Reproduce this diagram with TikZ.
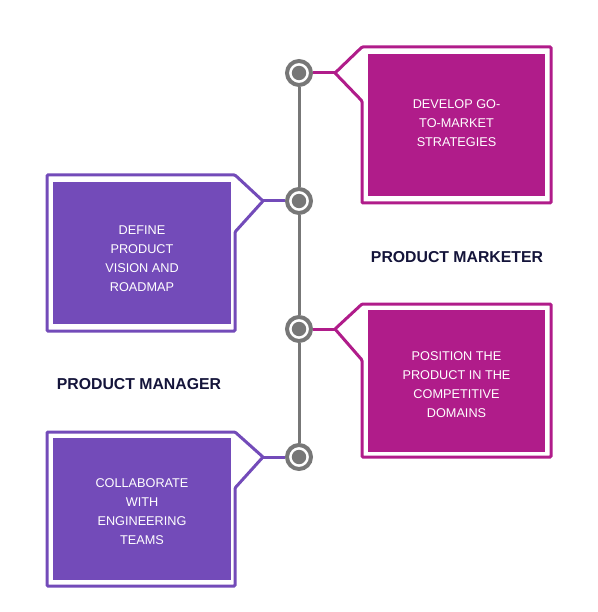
\documentclass[tikz,border=0pt]{standalone}
\usepackage{fontspec}
\setmainfont{Liberation Sans}
\usepackage{tikz}
\usepackage{xcolor}

\definecolor{magenta}{HTML}{B01C8A}
\definecolor{violet}{HTML}{734BB9}
\definecolor{spinegray}{HTML}{777777}
\definecolor{navy}{HTML}{14143A}

\tikzset{
  ring/.style={circle, draw=spinegray, line width=4pt, fill=white, minimum size=24pt, inner sep=0pt,
    path picture={\fill[spinegray] (path picture bounding box.center) circle (7.2pt);}},
  spine/.style={draw=spinegray, line width=3pt},
  magline/.style={draw=magenta, line width=3pt, rounded corners=1pt},
  violine/.style={draw=violet, line width=3pt, rounded corners=1pt},
  magbox/.style={fill=magenta, inner sep=0pt},
  viobox/.style={fill=violet, inner sep=0pt},
  boxtext/.style={text=white, align=center, inner sep=0pt,
    font=\fontsize{12.7}{19}\selectfont},
  rolelabel/.style={text=navy, font=\fontsize{15.8}{18}\selectfont\bfseries}
}

\begin{document}
\begin{tikzpicture}[x=1pt, y=-1pt]
        \useasboundingbox (0,0) rectangle (597,612);

        % Timeline rings
        \node (c1) at (299,73) [ring] {};
        \node (c2) at (299,201) [ring] {};
        \node (c3) at (299,329) [ring] {};
        \node (c4) at (299,457) [ring] {};
        \draw[spine] (c1) -- (c2);
        \draw[spine] (c2) -- (c3);
        \draw[spine] (c3) -- (c4);

        % Develop go-to-market strategies
        \node (gtm) at (456.5,125) [magbox, minimum width=177pt, minimum height=142pt] {};
        \node (gtmtext) at (456.5,122.7) [boxtext] {DEVELOP GO-\\TO-MARKET\\STRATEGIES};
        \coordinate (t1) at (335,73);
        \draw[magline] (t1) -- (362,47) -- (551,47) -- (551,203) -- (362,203) -- (362,101) -- cycle;
        \draw[magline] (c1) -- (t1);

        % Define product vision and roadmap
        \node (vision) at (142,253) [viobox, minimum width=178pt, minimum height=142pt] {};
        \node (visiontext) at (142,259) [boxtext] {DEFINE\\PRODUCT\\VISION AND\\ROADMAP};
        \coordinate (t2) at (263,201);
        \draw[violine] (t2) -- (235,175) -- (47,175) -- (47,331) -- (235,331) -- (235,232) -- cycle;
        \draw[violine] (c2) -- (t2);

        % Position the product
        \node (position) at (456.5,380.5) [magbox, minimum width=177pt, minimum height=142pt] {};
        \node (positiontext) at (456.5,384.7) [boxtext] {POSITION THE\\PRODUCT IN THE\\COMPETITIVE\\DOMAINS};
        \coordinate (t3) at (335,329);
        \draw[magline] (t3) -- (362,304) -- (551,304) -- (551,457) -- (362,457) -- (362,360) -- cycle;
        \draw[magline] (c3) -- (t3);

        % Collaborate with engineering teams
        \node (collab) at (142,508.5) [viobox, minimum width=178pt, minimum height=142pt] {};
        \node (collabtext) at (142,511.5) [boxtext] {COLLABORATE\\WITH\\ENGINEERING\\TEAMS};
        \coordinate (t4) at (263,457);
        \draw[violine] (t4) -- (235,432) -- (47,432) -- (47,586) -- (235,586) -- (235,488) -- cycle;
        \draw[violine] (c4) -- (t4);

        % Role labels
        \node (marketer) at (457,257) [rolelabel] {PRODUCT MARKETER};
        \node (manager) at (139,384) [rolelabel] {PRODUCT MANAGER};
    \end{tikzpicture}
\end{document}
